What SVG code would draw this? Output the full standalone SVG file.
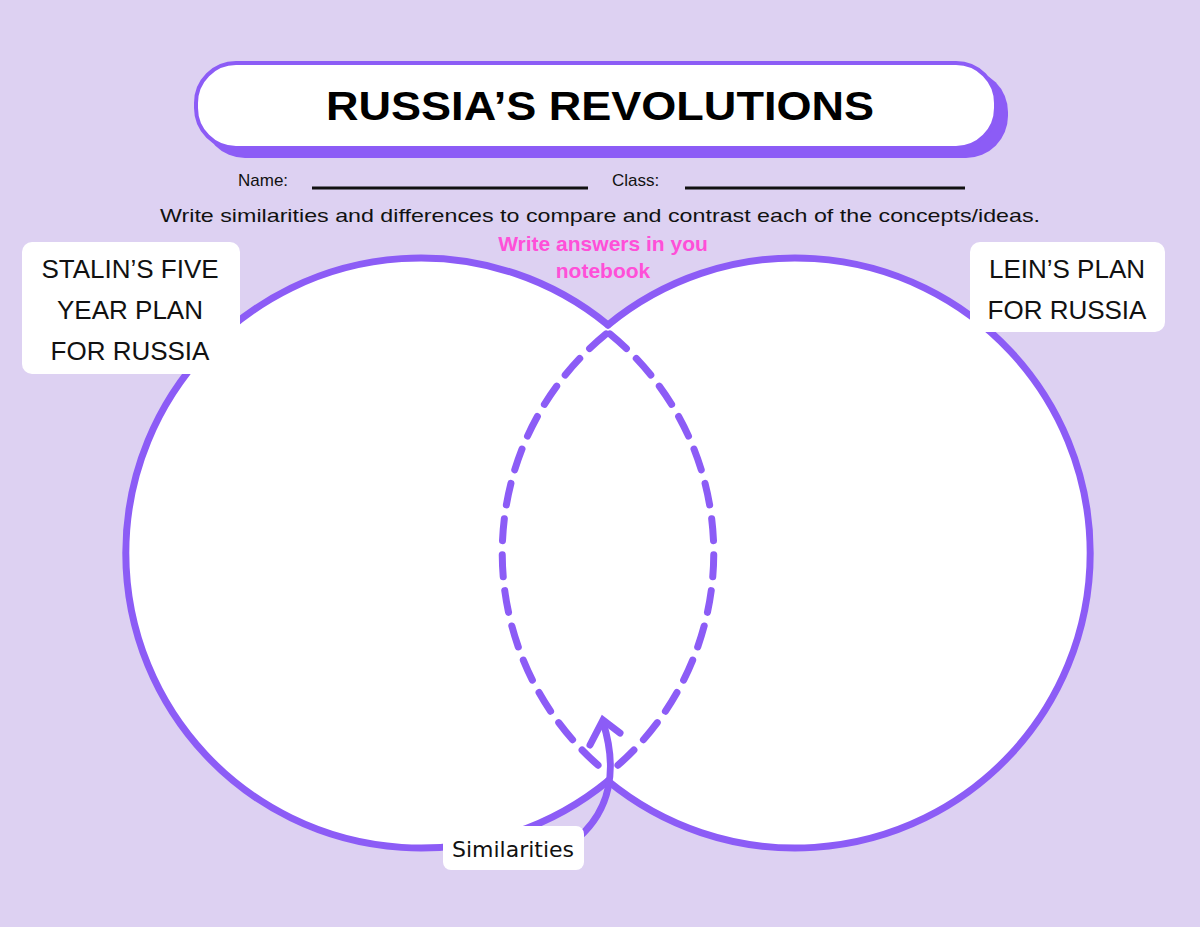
<svg xmlns="http://www.w3.org/2000/svg" width="1200" height="927" viewBox="0 0 1200 927">
<style>
.p{fill:none;stroke:#8c5cf6;stroke-width:7;stroke-linecap:round}
.lbl{font-family:"Liberation Sans",Arial,sans-serif;font-size:26px;fill:#111}
.box{fill:#fff}
.sm{font-family:"Liberation Sans",Arial,sans-serif;font-size:17px;fill:#111}
</style>
<rect width="1200" height="927" fill="#ddd1f2"/>
<g id="title">
<rect x="203" y="70" width="805" height="88" rx="42" fill="#8c5cf6"/>
<rect x="196" y="63" width="800" height="85" rx="40" fill="#fff" stroke="#8c5cf6" stroke-width="4"/>
<text x="600" y="120" text-anchor="middle" font-family="'Liberation Sans',Arial,sans-serif" font-size="40" font-weight="bold" fill="#000" textLength="548" lengthAdjust="spacingAndGlyphs">RUSSIA’S REVOLUTIONS</text>
</g>
<g id="fields">
<text class="sm" x="238" y="186">Name:</text>
<line x1="312" y1="188" x2="588" y2="188" stroke="#111" stroke-width="3"/>
<text class="sm" x="612" y="186">Class:</text>
<line x1="685" y1="188" x2="965" y2="188" stroke="#111" stroke-width="3"/>
<text x="600" y="222" text-anchor="middle" font-family="'Liberation Sans',Arial,sans-serif" font-size="19" fill="#111" textLength="880" lengthAdjust="spacingAndGlyphs">Write similarities and differences to compare and contrast each of the concepts/ideas.</text>
</g>
<g id="venn">
<circle cx="421" cy="553" r="295" fill="#fff"/>
<circle cx="795" cy="553" r="295" fill="#fff"/>
</g>
<g id="connectors">
<path class="p" d="M608,325 A295,295 0 1 0 608,781"/>
<path class="p" d="M608,325 A295,295 0 1 1 608,781"/>
<path class="p" stroke-dasharray="22,14" d="M606,334 A283,283 0 0 0 606,772"/>
<path class="p" stroke-dasharray="22,14" d="M610,334 A283,283 0 0 1 610,772"/>
<path class="p" d="M578,838 C610,810 618,770 603,722"/>
<path class="p" d="M590,745 L603,720 L620,733"/>
</g>
<g id="note">
<text x="603" y="251" text-anchor="middle" font-family="'Liberation Sans',Arial,sans-serif" font-size="21" font-weight="bold" fill="#ff4fd8">Write answers in you</text>
<text x="603" y="278" text-anchor="middle" font-family="'Liberation Sans',Arial,sans-serif" font-size="21" font-weight="bold" fill="#ff4fd8">notebook</text>
</g>
<g id="stalin">
<rect class="box" x="22" y="242" width="218" height="132" rx="10"/>
<text class="lbl" x="130" y="278" text-anchor="middle">STALIN’S FIVE</text>
<text class="lbl" x="130" y="319" text-anchor="middle">YEAR PLAN</text>
<text class="lbl" x="130" y="360" text-anchor="middle">FOR RUSSIA</text>
</g>
<g id="lein">
<rect class="box" x="970" y="242" width="195" height="90" rx="10"/>
<text class="lbl" x="1067" y="278" text-anchor="middle">LEIN’S PLAN</text>
<text class="lbl" x="1067" y="319" text-anchor="middle">FOR RUSSIA</text>
</g>
<g id="similarities">
<rect class="box" x="443" y="826" width="141" height="44" rx="8"/>
<text x="513" y="857" text-anchor="middle" font-family="'DejaVu Sans',sans-serif" font-size="22" fill="#111">Similarities</text>
</g>
</svg>
